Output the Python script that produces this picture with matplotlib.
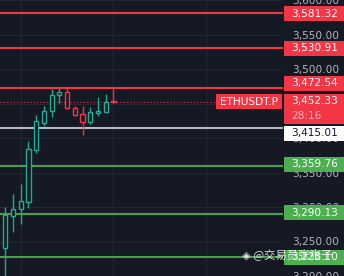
import matplotlib
matplotlib.use('Agg')
import matplotlib.pyplot as plt
from matplotlib.patches import Rectangle

W, H = 344, 276
BG = '#151924'
GRID = '#232733'
UP = '#22ab94'
DOWN = '#f23645'
GREEN = '#4caf50'
AXIS_TXT = '#b2b5be'

# candles (oldest first)
opens = [3241.0, 3286.8, 3296.8, 3306.8, 3382.6, 3421.2, 3439.8, 3462.7, 3467.0, 3444.1, 3434.1, 3422.7, 3435.6, 3438.4, 3452.9]
highs = [3299.6, 3318.2, 3334.0, 3395.5, 3432.7, 3447.0, 3471.3, 3472.7, 3473.0, 3447.0, 3447.0, 3445.6, 3459.9, 3464.2, 3472.5]
lows = [3190.0, 3263.9, 3275.4, 3298.2, 3378.3, 3416.9, 3429.8, 3451.3, 3442.7, 3431.3, 3404.1, 3419.8, 3431.3, 3438.4, 3451.0]
closes = [3288.2, 3296.8, 3308.2, 3384.0, 3424.1, 3439.8, 3462.7, 3467.0, 3444.1, 3432.7, 3422.7, 3437.0, 3439.8, 3452.7, 3452.33]

# horizontal levels
red_levels = [3581.32, 3530.91, 3472.54]
white_level = 3415.01
green_levels = [3359.76, 3290.13, 3228.10]
last_price = 3452.33
countdown = '28:16'
symbol = 'ETHUSDT.P'
watermark = '◈ @交易员张张子'

y_ticks = [3200, 3250, 3300, 3350, 3400, 3450, 3500, 3550, 3600]
x_grid = [2, 14, 26]

plt.rcParams['font.family'] = ['DejaVu Sans']
FS = 7.6

fig = plt.figure(figsize=(W / 100, H / 100), dpi=100, facecolor=BG)
ax = fig.add_axes([0, 0, 283 / W, 1])
ax.set_facecolor(BG)
ax.set_xlim(-0.69, 35.97)
ax.set_ylim(3205.2, 3600.0)
for s in ax.spines.values():
    s.set_visible(False)
ax.set_xticks([])
ax.yaxis.tick_right()
ax.set_yticks(y_ticks)
ax.set_yticklabels(['{:,.2f}'.format(t) for t in y_ticks])
ax.tick_params(axis='y', length=0, pad=6.3, labelsize=FS, labelcolor=AXIS_TXT)

for t in y_ticks:
    ax.axhline(t, color=GRID, lw=0.8, zorder=0)
for g in x_grid:
    ax.axvline(g, color=GRID, lw=0.8, zorder=0)

# candles (hollow)
bw = 0.55
for i in range(len(opens)):
    o, h, l, c = opens[i], highs[i], lows[i], closes[i]
    col = UP if c >= o else DOWN
    ax.vlines(i, l, h, color=col, lw=1.0, zorder=2)
    lo, hi = min(o, c), max(o, c)
    ax.add_patch(Rectangle((i - bw / 2, lo), bw, max(hi - lo, 0.4),
                           facecolor=BG, edgecolor=col, lw=1.0, zorder=3))

# level lines
for v in red_levels:
    ax.axhline(v, color=DOWN, lw=1.5, zorder=1)
ax.axhline(white_level, color='#b8bbc4', lw=1.5, zorder=1)
for v in green_levels:
    ax.axhline(v, color='#4a9e4e', lw=1.5, zorder=1)
ax.plot([-0.69, 27.3], [last_price, last_price], color=DOWN, lw=0.8,
        ls=(0, (1, 2)), zorder=1)


def fy(v):
    return ax.transData.transform((0, v))[1] / H


def price_box(v, text, fc, tc, dy=0, bh=15):
    yc = fy(v) + dy / H
    fig.add_artist(Rectangle((284 / W, yc - bh / 2 / H), 60 / W, bh / H,
                             transform=fig.transFigure, facecolor=fc,
                             edgecolor='none', zorder=5))
    fig.text(291.5 / W, yc, text, ha='left', va='center', fontsize=FS,
             color=tc, zorder=6)


price_box(red_levels[0], '{:,.2f}'.format(red_levels[0]), DOWN, 'white', dy=-1)
price_box(red_levels[1], '{:,.2f}'.format(red_levels[1]), DOWN, 'white', dy=-0.5)
price_box(red_levels[2], '{:,.2f}'.format(red_levels[2]), DOWN, 'white', dy=4.5)

# last price with countdown
yc = fy(last_price)
fig.add_artist(Rectangle((284 / W, yc - 22.5 / H), 60 / W, 30.5 / H,
                         transform=fig.transFigure, facecolor=DOWN,
                         edgecolor='none', zorder=5))
fig.text(291.5 / W, yc + 0.5 / H, '{:,.2f}'.format(last_price), ha='left',
         va='center', fontsize=FS, color='white', zorder=6)
fig.text(291.5 / W, yc - 14 / H, countdown, ha='left', va='center',
         fontsize=FS, color='#f9b4ba', zorder=6)

# symbol tag
fig.add_artist(Rectangle((216 / W, yc - 7.5 / H), 66 / W, 15 / H,
                         transform=fig.transFigure, facecolor=DOWN,
                         edgecolor='none', zorder=5))
fig.text(249 / W, yc, symbol, ha='center', va='center', fontsize=FS,
         color='white', zorder=6)

price_box(white_level, '{:,.2f}'.format(white_level), 'white', '#131722', dy=-5.6)
price_box(green_levels[0], '{:,.2f}'.format(green_levels[0]), GREEN, 'white', dy=1.5)
price_box(green_levels[1], '{:,.2f}'.format(green_levels[1]), GREEN, 'white', dy=1)
price_box(green_levels[2], '{:,.2f}'.format(green_levels[2]), GREEN, 'white', dy=-0.5)

fig.text(242 / W, fy(green_levels[2]) + 2 / H, watermark,
         family=['Noto Sans CJK SC', 'DejaVu Sans'], fontsize=8.2,
         color='white', alpha=0.85, ha='left', va='center', zorder=10)

fig.savefig('out.png', dpi=100, facecolor=BG)
